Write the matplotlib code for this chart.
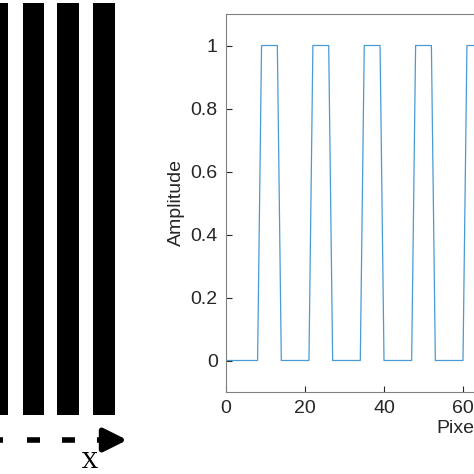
import matplotlib
matplotlib.use("Agg")
import matplotlib.pyplot as plt
import numpy as np

plt.rcParams['font.family'] = ['Liberation Sans', 'DejaVu Sans']

# square wave samples (pixel index, amplitude)
pixels = list(range(0, 66))
amplitude = [0]*9 + [1]*5 + [0]*8 + [1]*5 + [0]*8 + [1]*5 + [0]*8 + [1]*5 + [0]*8 + [1]*5
amplitude = amplitude[:len(pixels)]
yticks = [0, 0.2, 0.4, 0.6, 0.8, 1]
xticks = [0, 20, 40, 60, 80, 100, 120]

# left stripes (pixel extents in left panel)
stripe_left = [-20, 23, 57, 93]
stripe_right = [8, 44, 79, 115]

W = H = 474
fig = plt.figure(figsize=(4.74, 4.74), dpi=100)

# left panel
axl = fig.add_axes([0, 0, 140/W, 1])
axl.set_xlim(0, 140)
axl.set_ylim(H, 0)
axl.axis('off')
for l, r in zip(stripe_left, stripe_right):
    axl.fill_between([l, r], 3, 415, color='black', lw=0)
for x0 in [-10, 27, 62, 97]:
    axl.plot([x0, x0+13], [440, 440], color='black', lw=4, solid_capstyle='butt')
axl.annotate('', xy=(130, 440), xytext=(108, 440),
             arrowprops=dict(arrowstyle='-|>,head_length=1.4,head_width=0.7', color='black', lw=4))
axl.text(90, 462, 'X', family='DejaVu Serif', fontsize=16, ha='center', va='center')

# right panel
px_per = 3.95
ax = fig.add_axes([226/W, (H-392)/H, 120*px_per/W, (392-14)/H])
ax.plot(pixels, amplitude, color='#4a9bd4', lw=0.9)
ax.set_xlim(0, 120)
ax.set_ylim(-0.1, 1.1)
ax.set_xticks(xticks)
ax.set_yticks(yticks)
ax.set_yticklabels(['0', '0.2', '0.4', '0.6', '0.8', '1'])
ax.tick_params(direction='in', labelsize=14, colors='#262626', length=4, pad=6)
for s in ax.spines.values():
    s.set_color('#808080')
ax.set_ylabel('Amplitude', fontsize=14, color='#262626', labelpad=4)
ax.set_xlabel('Pixels', fontsize=14, color='#262626', labelpad=2)

fig.savefig('out.png', dpi=100)
